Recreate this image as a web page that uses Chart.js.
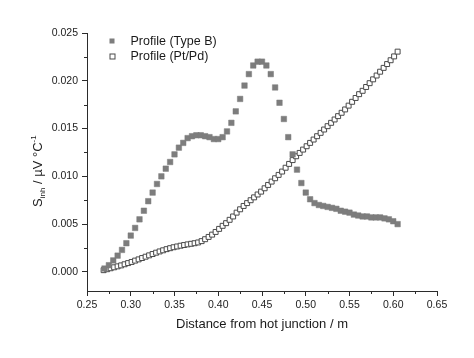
<!DOCTYPE html>
<html>
<head>
<meta charset="utf-8">
<script src="https://cdn.jsdelivr.net/npm/chart.js@4.4.1/dist/chart.umd.min.js"></script>
<style>
  html, body { margin: 0; padding: 0; background: #fff; }
  #wrap { width: 474px; height: 358px; }
</style>
</head>
<body>
<div id="wrap"><canvas id="c" width="474" height="358"></canvas></div>
<script>
// ---- Data ----
const typeBX = [0.270,0.275,0.280,0.285,0.290,0.295,0.300,0.305,0.310,0.315,0.320,0.325,0.330,0.335,0.340,0.345,0.350,0.355,0.360,0.365,0.370,0.375,0.380,0.385,0.390,0.395,0.400,0.405,0.410,0.415,0.420,0.425,0.430,0.435,0.440,0.445,0.450,0.455,0.460,0.465,0.470,0.475,0.480,0.485,0.490,0.495,0.500,0.505,0.510,0.515,0.520,0.525,0.530,0.535,0.540,0.545,0.550,0.555,0.560,0.565,0.570,0.575,0.580,0.585,0.590,0.595,0.600,0.605];
const typeBY = [0.00035,0.0007,0.0012,0.0017,0.0023,0.0030,0.0038,0.0046,0.0055,0.0064,0.0074,0.0083,0.0092,0.0100,0.0108,0.0115,0.0123,0.0130,0.0135,0.0140,0.0142,0.0143,0.0143,0.0142,0.0141,0.0139,0.0139,0.0141,0.0147,0.0156,0.0168,0.0181,0.0195,0.0207,0.0216,0.0220,0.0220,0.0216,0.0207,0.0193,0.0177,0.0160,0.0141,0.0123,0.0107,0.0093,0.0083,0.0076,0.0072,0.0070,0.0069,0.0068,0.0067,0.0066,0.0064,0.0063,0.0062,0.0060,0.0059,0.0058,0.0058,0.0057,0.0057,0.0057,0.0056,0.0055,0.0053,0.0050];

const ptpdX = [0.269,0.273,0.277,0.281,0.285,0.289,0.293,0.297,0.301,0.305,0.309,0.313,0.317,0.321,0.325,0.329,0.333,0.337,0.341,0.345,0.349,0.353,0.357,0.361,0.365,0.369,0.373,0.377,0.381,0.385,0.389,0.393,0.397,0.401,0.405,0.409,0.413,0.417,0.421,0.425,0.429,0.433,0.437,0.441,0.445,0.449,0.453,0.457,0.461,0.465,0.469,0.473,0.477,0.481,0.485,0.489,0.493,0.497,0.501,0.505,0.509,0.513,0.517,0.521,0.525,0.529,0.533,0.537,0.541,0.545,0.549,0.553,0.557,0.561,0.565,0.569,0.573,0.577,0.581,0.585,0.589,0.593,0.597,0.601,0.605];
const ptpdY = [0.00018,0.00028,0.00038,0.00048,0.00058,0.00068,0.00080,0.00092,0.00104,0.00118,0.00131,0.00145,0.00159,0.00173,0.00187,0.00201,0.00214,0.00226,0.00238,0.00248,0.00258,0.00266,0.00274,0.00281,0.00288,0.00294,0.00300,0.00308,0.00322,0.00342,0.00366,0.00390,0.00418,0.00450,0.00482,0.00510,0.00545,0.00580,0.00620,0.00655,0.00690,0.00720,0.00750,0.00780,0.00810,0.00840,0.00875,0.00910,0.00945,0.00980,0.01015,0.01050,0.01090,0.01130,0.01170,0.01210,0.01245,0.01280,0.01315,0.01350,0.01385,0.01420,0.01455,0.01490,0.01525,0.01560,0.01595,0.01630,0.01665,0.01700,0.01740,0.01780,0.01820,0.01860,0.01895,0.01935,0.01975,0.02015,0.02055,0.02095,0.02135,0.02175,0.02215,0.02255,0.02305];

const seriesNames = ['Profile (Type B)', 'Profile (Pt/Pd)'];
const xTicks = [0.25,0.30,0.35,0.40,0.45,0.50,0.55,0.60,0.65];
const yTicks = [0.000,0.005,0.010,0.015,0.020,0.025];
const xMinorTicks = [0.275,0.325,0.375,0.425,0.475,0.525,0.575,0.625];
const yMinorTicks = [0.0025,0.0075,0.0125,0.0175,0.0225];
const xTitle = 'Distance from hot junction / m';

// ---- Chart ----
const FONT = '"Liberation Sans", Arial, sans-serif';
const AXIS = '#2b2b2b';

const minorTicksPlugin = {
  id: 'minorTicks',
  afterDraw(chart) {
    const ctx = chart.ctx, xs = chart.scales.x, ys = chart.scales.y;
    const ca = chart.chartArea;
    ctx.save();
    ctx.strokeStyle = AXIS;
    ctx.lineWidth = 1;
    ctx.beginPath();
    xMinorTicks.forEach(v => {
      const px = Math.round(xs.getPixelForValue(v)) + 0.5;
      ctx.moveTo(px, ca.bottom); ctx.lineTo(px, ca.bottom + 3);
    });
    yMinorTicks.forEach(v => {
      const py = Math.round(ys.getPixelForValue(v)) + 0.5;
      ctx.moveTo(ca.left, py); ctx.lineTo(ca.left - 3, py);
    });
    ctx.stroke();
    ctx.restore();
  }
};

const yTitlePlugin = {
  id: 'yTitle',
  afterDraw(chart) {
    const ctx = chart.ctx;
    ctx.save();
    ctx.translate(42, 207);
    ctx.rotate(-Math.PI / 2);
    ctx.fillStyle = '#1a1a1a';
    ctx.textBaseline = 'alphabetic';
    ctx.textAlign = 'left';
    let x = 0;
    const big = '13px ' + FONT, small = '8px ' + FONT;
    const parts = [
      {t: 'S', f: big, dy: 0},
      {t: 'inh', f: small, dy: 3},
      {t: ' / \u00B5V \u00B0C', f: big, dy: 0},
      {t: '-1', f: small, dy: -6}
    ];
    parts.forEach(p => {
      ctx.font = p.f;
      ctx.fillText(p.t, x, p.dy);
      x += ctx.measureText(p.t).width;
    });
    ctx.restore();
  }
};

const legendPlugin = {
  id: 'customLegend',
  afterDraw(chart) {
    const ctx = chart.ctx;
    const ca = chart.chartArea;
    ctx.save();
    chart.data.datasets.forEach((ds, i) => {
      const cx = Math.round(ca.left + 25);
      const cy = Math.round(ca.top + 7.5 + i * 15.5);
      ctx.fillStyle = ds.pointBackgroundColor;
      ctx.strokeStyle = ds.pointBorderColor;
      ctx.lineWidth = 1;
      ctx.fillRect(cx - 2.5, cy - 2.5, 5, 5);
      if (i === 1) ctx.strokeRect(cx - 2, cy - 2, 5, 5);
      ctx.fillStyle = '#1a1a1a';
      ctx.font = '12.5px ' + FONT;
      ctx.textBaseline = 'middle';
      ctx.textAlign = 'left';
      ctx.fillText(ds.label, ca.left + 43.5, cy + 0.5);
    });
    ctx.restore();
  }
};

new Chart(document.getElementById('c'), {
  type: 'scatter',
  data: {
    datasets: [
      {
        label: seriesNames[0],
        data: typeBX.map((x, i) => ({x, y: typeBY[i]})),
        pointStyle: 'rect',
        pointRadius: 3.9,
        pointBackgroundColor: '#7d7d7d',
        pointBorderColor: '#7d7d7d',
        pointBorderWidth: 0.5,
        showLine: false
      },
      {
        label: seriesNames[1],
        data: ptpdX.map((x, i) => ({x, y: ptpdY[i]})),
        pointStyle: 'rect',
        pointRadius: 3.5,
        pointBackgroundColor: '#ffffff',
        pointBorderColor: '#4a4a4a',
        pointBorderWidth: 1,
        showLine: false
      }
    ]
  },
  options: {
    responsive: false,
    animation: false,
    events: [],
    layout: { padding: { left: 0, right: 37, top: 33, bottom: 0 } },
    plugins: { legend: { display: false }, tooltip: { enabled: false } },
    scales: {
      x: {
        type: 'linear',
        min: 0.25, max: 0.65,
        afterFit(s) { s.height = 67; },
        afterBuildTicks(s) { s.ticks = xTicks.map(v => ({value: v})); },
        grid: { drawOnChartArea: false, drawTicks: true, tickLength: 5, tickColor: AXIS, tickWidth: 1 },
        border: { display: true, color: AXIS, width: 1 },
        ticks: {
          color: '#222', font: { family: FONT, size: 10.5 }, padding: 3,
          maxRotation: 0, autoSkip: false,
          callback: v => Number(v).toFixed(2)
        },
        title: {
          display: true, text: xTitle, color: '#1a1a1a',
          font: { family: FONT, size: 13 }, padding: { top: 4, bottom: 26 }
        }
      },
      y: {
        type: 'linear',
        min: -0.002, max: 0.025,
        afterFit(s) { s.width = 87; },
        afterBuildTicks(s) { s.ticks = yTicks.map(v => ({value: v})); },
        grid: { drawOnChartArea: false, drawTicks: true, tickLength: 5, tickColor: AXIS, tickWidth: 1 },
        border: { display: true, color: AXIS, width: 1 },
        ticks: {
          color: '#222', font: { family: FONT, size: 10.5 }, padding: 4,
          autoSkip: false,
          callback: v => Number(v).toFixed(3)
        }
      }
    }
  },
  plugins: [minorTicksPlugin, yTitlePlugin, legendPlugin]
});
</script>
</body>
</html>
